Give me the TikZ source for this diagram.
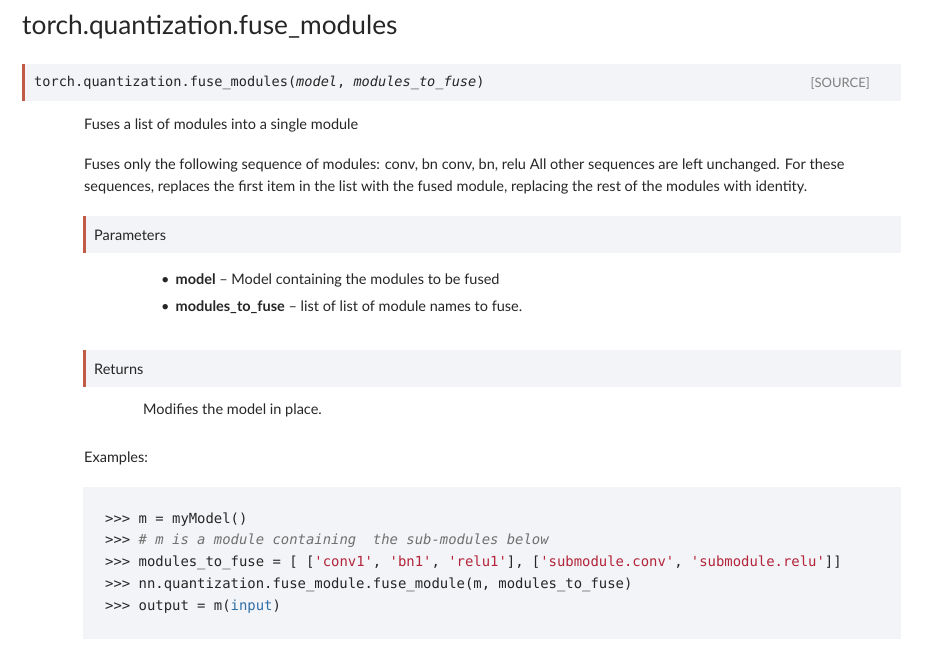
\documentclass[tikz,border=0pt]{standalone}
\usepackage{fontspec}
\setmainfont{Lato}
\setmonofont{DejaVu Sans Mono}
\definecolor{boxbg}{HTML}{F3F4F7}
\definecolor{bar}{HTML}{C25B46}
\definecolor{txt}{HTML}{262626}
\definecolor{str}{HTML}{B3243A}
\definecolor{kw}{HTML}{2F6FA8}
\definecolor{cmt}{HTML}{707070}
\begin{document}
\begin{tikzpicture}[x=1pt,y=-1pt,
  body/.style={anchor=west,inner sep=0,text=txt,font=\fontsize{14.5}{17}\selectfont},
  code/.style={anchor=west,inner sep=0,text=txt,font=\ttfamily\fontsize{13.9}{16}\selectfont},
  band/.style={fill=boxbg,draw=none},
  redbar/.style={fill=bar,draw=none}]
\useasboundingbox (0,0) rectangle (927,661);
\fill[white] (0,0) rectangle (927,661);
\node[anchor=west,inner sep=0,text=txt,font=\fontsize{26.3}{30}\selectfont] (title) at (22,27) {torch.quantization.fuse\_modules};
% signature
\fill[band] (22,64) rectangle (901,101);
\fill[redbar] (22,64) rectangle (25,101);
\node[code,font=\ttfamily\fontsize{13.6}{16}\selectfont] (sig) at (34,83) {torch.quantization.fuse\_modules(\textit{model}, \textit{modules\_to\_fuse})};
\node[anchor=east,inner sep=0,text=gray,font=\fontsize{13}{15}\selectfont] (src) at (870,83) {[SOURCE]};
\node[body] (p1) at (84,125) {Fuses a list of modules into a single module};
\node[body] (p2) at (84,165) {Fuses only the following sequence of modules: conv, bn conv, bn, relu All other sequences are left unchanged. For these};
\node[body] (p3) at (84,187) {sequences, replaces the first item in the list with the fused module, replacing the rest of the modules with identity.};
% Parameters
\fill[band] (83,216) rectangle (901,253);
\fill[redbar] (83,216) rectangle (86,253);
\node[body] (par) at (94,235) {Parameters};
\node[body] (b1) at (161,280) {•\hspace{6pt}\textbf{model} – Model containing the modules to be fused};
\node[body] (b2) at (161,307) {•\hspace{6pt}\textbf{modules\_to\_fuse} – list of list of module names to fuse.};
% Returns
\fill[band] (83,350) rectangle (901,387);
\fill[redbar] (83,350) rectangle (86,387);
\node[body] (ret) at (94,369) {Returns};
\node[body] (mod) at (143,410) {Modifies the model in place.};
\node[body] (ex) at (84,458) {Examples:};
% code
\fill[band] (83,487) rectangle (901,639);
\node[code] (c1) at (105,520) {>{}>{}> m = myModel()};
\node[code] (c2) at (105,541) {>{}>{}> \textcolor{cmt}{\textit{\# m is a module containing\ \ the sub-modules below}}};
\node[code] (c3) at (105,563) {>{}>{}> modules\_to\_fuse = [ [\textcolor{str}{'conv1'}, \textcolor{str}{'bn1'}, \textcolor{str}{'relu1'}], [\textcolor{str}{'submodule.conv'}, \textcolor{str}{'submodule.relu'}]]};
\node[code] (c4) at (105,585) {>{}>{}> nn.quantization.fuse\_module.fuse\_module(m, modules\_to\_fuse)};
\node[code] (c5) at (105,607) {>{}>{}> output = m(\textcolor{kw}{input})};
\end{tikzpicture}
\end{document}
